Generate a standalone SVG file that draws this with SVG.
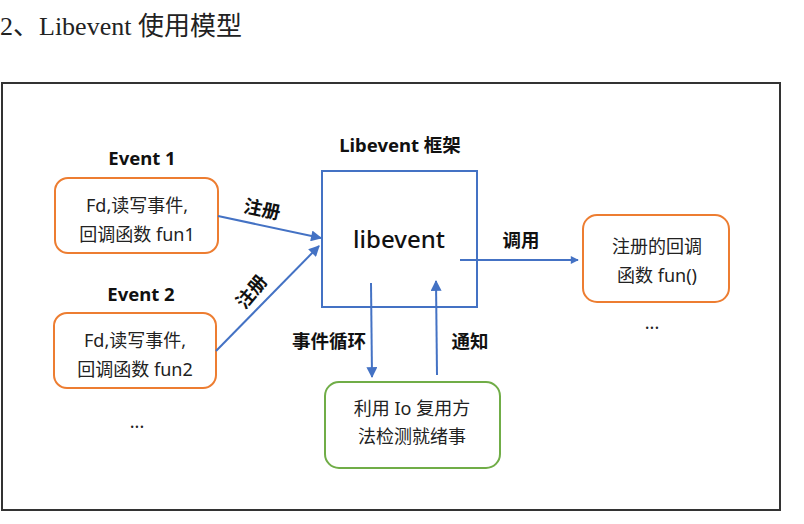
<svg xmlns="http://www.w3.org/2000/svg" width="804" height="524" viewBox="0 0 804 524">
<defs>
<style>
.t{font-family:"Noto Sans","Noto Sans CJK SC",sans-serif;fill:#111;text-anchor:middle}
.b{font-weight:bold;font-size:18.5px}
.n{font-size:18px;fill:#222}
.ob{fill:#fff;stroke:#ED7D31;stroke-width:2}
.c{stroke:#4472C4;stroke-width:2;fill:none}
</style>
<marker id="ah" viewBox="0 0 10 10" refX="9" refY="5" markerWidth="6" markerHeight="5.5" orient="auto" markerUnits="strokeWidth">
<path d="M0,0 L10,5 L0,10 z" fill="#4472C4"/>
</marker>
<marker id="ah2" viewBox="0 0 10 10" refX="9" refY="5" markerWidth="4.5" markerHeight="4" orient="auto" markerUnits="strokeWidth">
<path d="M0,0 L10,5 L0,10 z" fill="#4472C4"/>
</marker>
</defs>
<rect width="804" height="524" fill="#fff"/>
<text x="0" y="35" style="font-family:'Liberation Serif','Noto Sans CJK SC',serif;font-size:26px;fill:#222">2、Libevent 使用模型</text>
<rect x="2" y="83" width="778" height="427" fill="none" stroke="#333" stroke-width="2"/>

<g id="event1">
<text class="t b" x="142" y="165">Event 1</text>
<rect class="ob" x="55" y="178" width="163" height="75" rx="13"/>
<text class="t n" x="137" y="212">Fd,读写事件,</text>
<text class="t n" x="137" y="241">回调函数 fun1</text>
</g>

<g id="event2">
<text class="t b" x="141" y="301">Event 2</text>
<rect class="ob" x="54" y="313" width="162" height="75" rx="13"/>
<text class="t n" x="135" y="347">Fd,读写事件,</text>
<text class="t n" x="135" y="376">回调函数 fun2</text>
<text class="t n" x="137" y="428">...</text>
</g>

<g id="libevent">
<text class="t b" x="400" y="152">Libevent 框架</text>
<rect x="322" y="171" width="155" height="136" fill="#fff" stroke="#4472C4" stroke-width="2"/>
<text class="t" x="399" y="248" style="font-size:24px;font-weight:500">libevent</text>
</g>

<g id="callback">
<rect class="ob" x="583" y="215" width="146" height="87" rx="14"/>
<text class="t n" x="657" y="253">注册的回调</text>
<text class="t n" x="657" y="282">函数 fun()</text>
<text class="t n" x="652" y="329">...</text>
</g>

<g id="iomux">
<rect x="325" y="382" width="175" height="86" rx="14" fill="#fff" stroke="#70AD47" stroke-width="2"/>
<text class="t n" x="412" y="415">利用 Io 复用方</text>
<text class="t n" x="412" y="443">法检测就绪事</text>
</g>

<g id="connectors">
<line class="c" x1="218" y1="216" x2="321" y2="238" marker-end="url(#ah)"/>
<line class="c" x1="216" y1="351" x2="319" y2="246" marker-end="url(#ah)"/>
<line class="c" x1="371" y1="283" x2="372" y2="377" stroke-width="2.5" marker-end="url(#ah)"/>
<line class="c" x1="437" y1="375" x2="436" y2="281" stroke-width="2.5" marker-end="url(#ah)"/>
<line class="c" x1="460" y1="260" x2="578" y2="260" stroke-width="3" marker-end="url(#ah2)"/>
<text class="t b" x="262" y="216" transform="rotate(12 262 210)">注册</text>
<text class="t b" x="252" y="298" transform="rotate(-50 252 292)">注册</text>
<text class="t b" x="329" y="348">事件循环</text>
<text class="t b" x="470" y="348">通知</text>
<text class="t b" x="521" y="247">调用</text>
</g>
</svg>
